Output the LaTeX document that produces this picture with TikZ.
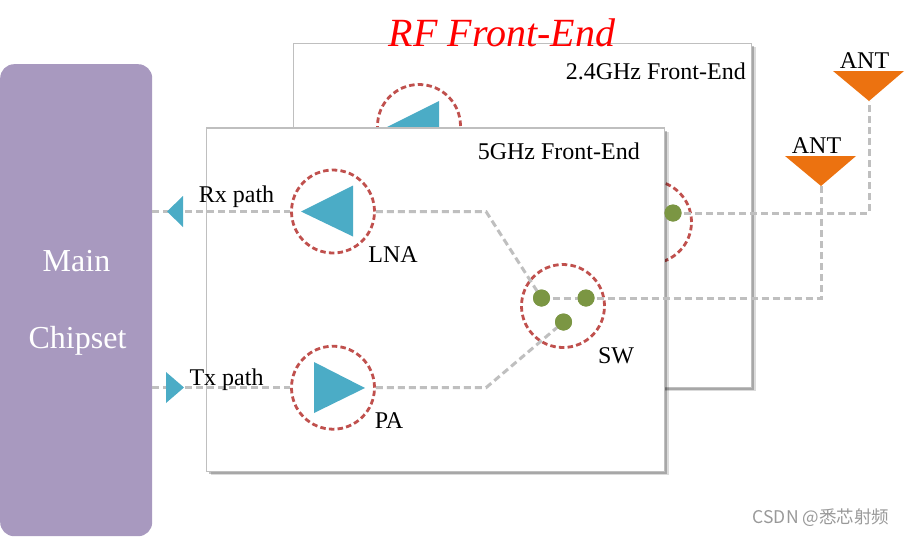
\documentclass[tikz,border=0pt]{standalone}
\usepackage{fontspec}
\setmainfont{Liberation Serif}
\newfontfamily\cjk{Noto Sans CJK SC}
\usetikzlibrary{shadows}
\definecolor{chipcol}{HTML}{A899BF}
\definecolor{ampcol}{HTML}{4BACC6}
\definecolor{ringcol}{HTML}{C0504D}
\definecolor{dotcol}{HTML}{7B9643}
\definecolor{antcol}{HTML}{EC7210}
\definecolor{wirecol}{HTML}{BFBFBF}
\tikzset{
  lbl/.style={inner sep=0pt,font=\fontsize{24}{28}\selectfont},
  bigl/.style={inner sep=0pt,text=white,font=\fontsize{32}{38}\selectfont},
  board/.style={draw=wirecol,line width=1.2pt,fill=white,
    drop shadow={shadow xshift=4pt,shadow yshift=-4pt,fill=black,opacity=.14},
    drop shadow={shadow xshift=2.5pt,shadow yshift=-2.5pt,fill=black,opacity=.24}},
  ring/.style={circle,draw=ringcol,line width=2.8pt,dash pattern=on 5.5pt off 3.2pt,minimum size=83pt,inner sep=0pt},
  wire/.style={draw=wirecol,line width=3pt,dash pattern=on 7pt off 4pt},
  swdot/.style={circle,fill=dotcol,minimum size=17pt,inner sep=0pt},
  amp/.style={fill=ampcol},
  ant/.style={fill=antcol}
}
\begin{document}
\begin{tikzpicture}[x=1pt,y=-1pt]
  \useasboundingbox (0,0) rectangle (905,536);

  % chipset
  \node[fill=chipcol,rounded corners=14pt,minimum width=152pt,minimum height=472pt,inner sep=0pt,anchor=north west] (chip) at (0,64) {};
  \node[bigl] (chipa) at (76.5,261) {Main};
  \node[bigl] (chipb) at (77.5,341) {Chipset};

  % 2.4GHz board
  \node[board,minimum width=458.4pt,minimum height=344.2pt,inner sep=0pt,anchor=north west] (boardb) at (292.6,42.6) {};
  \node[ring] (lnab) at (419,126) {};
  \fill[amp] (387,127) -- ++(52,-26) -- ++(0,51) -- cycle;
  \node[ring] (swb) at (650,222) {};
  \node[lbl,anchor=east] (boardblbl) at (746,71) {2.4GHz Front-End};

  % 5GHz board
  \node[board,minimum width=458pt,minimum height=343.2pt,inner sep=0pt,anchor=north west] (boarda) at (206,127.4) {};
  \node[lbl,anchor=east] (boardalbl) at (640,151) {5GHz Front-End};

  \node[ring] (lna) at (333,211.5) {};
  \node[ring] (pa) at (333,387.7) {};
  \node[ring] (sw) at (563,306) {};

  \coordinate (rxstart) at (chip.east |- lna);
  \coordinate (txstart) at (chip.east |- pa);
  \coordinate (rxknee) at (486,211.5);
  \coordinate (txknee) at (486,387.7);
  \node[swdot] (swa) at (541.5,298) {};
  \node[swdot] (swc) at (586,298) {};
  \node[swdot] (swd) at (563.5,322) {};
  \node[swdot] (swe) at (673,213) {};
  \coordinate (anta) at (821,186);
  \coordinate (antb) at (869,101);

  \draw[wire] (rxstart) -- (lna.west);
  \draw[wire] (txstart) -- (pa.west);
  \draw[wire] (lna.east) -- (rxknee) -- (swa.center);
  \draw[wire] (pa.east) -- (txknee) -- (swd.center);
  \draw[wire] (swa.center) -- (swc.center) -- (swc -| anta) -- (anta);
  \draw[wire] (swe.center) -- (swe -| antb) -- (antb);

  \node[swdot] (swat) at (swa) {};
  \node[swdot] (swct) at (swc) {};
  \node[swdot] (swdt) at (swd) {};
  \node[swdot] (swet) at (swe) {};

  \fill[amp] (301,211.5) -- ++(52,-26) -- ++(0,51) -- cycle;
  \fill[amp] (314,362) -- ++(51,26) -- ++(-51,25) -- cycle;
  \fill[amp] (167,211.5) -- ++(16,-15.5) -- ++(0,31) -- cycle;
  \fill[amp] (166,372) -- ++(18,15.5) -- ++(-18,15.5) -- cycle;

  \fill[ant] (785,156) -- ++(71,0) -- (anta) -- cycle;
  \fill[ant] (833,71) -- ++(71,0) -- (antb) -- cycle;

  \node[lbl] (lblant) at (864.5,60.5) {ANT};
  \node[lbl] (lblanta) at (816.5,145.5) {ANT};
  \node[lbl] (lblrx) at (236.5,196.5) {Rx path};
  \node[lbl] (lbltx) at (226.5,380) {Tx path};
  \node[lbl] (lbllna) at (393,254.5) {LNA};
  \node[lbl] (lblpa) at (389,420.5) {PA};
  \node[lbl] (lblsw) at (616,355.5) {SW};

  \node[inner sep=0pt,text=red,font=\fontsize{40}{46}\selectfont\itshape] (title) at (502,33) {RF Front-End};
  \node[inner sep=0pt,text=black!40,font=\cjk\fontsize{17.5}{20}\selectfont] (mark) at (821,518) {CSDN @悉芯射频};
\end{tikzpicture}
\end{document}
